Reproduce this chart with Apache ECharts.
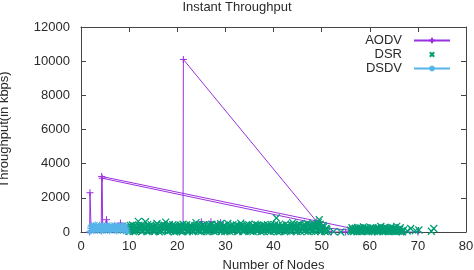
<!DOCTYPE html>
<html>
<head>
<meta charset="utf-8">
<title>Instant Throughput</title>
<script src="https://cdn.jsdelivr.net/npm/echarts@6/dist/echarts.min.js"></script>
<style>
  html, body { margin: 0; padding: 0; background: #fff; }
  #main { width: 474px; height: 270px; }
</style>
</head>
<body>
<div id="main"></div>
<script>
// axis ticks
var xTicks = { min: 0, max: 80, step: 10 };
var yTicks = { min: 0, max: 12000, step: 2000 };

// AODV (node, kbps) in trace order, spikes + tail near zero
var aodv = [
  [1.8, 0], [1.87, 2300], [2.1, 200], [2.6, 300], [3.0, 120], [3.6, 280], [4.2, 80],
  [4.3, 3250], [56.5, 200], [57.5, 60], [50.5, 250], [49.3, 480], [4.4, 3150], [4.5, 150],
  [5.3, 720], [5.8, 250], [7.0, 380], [8.2, 520], [9.0, 300], [12.0, 250], [15.0, 300],
  [18.0, 200], [21.2, 100], [21.27, 10100], [49.0, 600], [48.0, 250], [44.0, 300],
  [40.0, 200], [35.0, 280], [30.0, 200], [29.0, 550], [28.0, 250], [27.0, 600],
  [26.0, 200], [25.0, 600], [24.0, 150], [33.0, 250], [40.0, 450], [46.0, 250],
  [50.0, 150], [52.0, 0], [55.0, 0], [58.0, 20], [61.0, 0], [64.0, 30], [67.0, 0], [70.0, 0]
];

// DSR scatter, dense band 9.5..51 and 56..67 (two passes)
var dsrA = [
  [9.5,120],[9.8,340],[10.1,60],[10.4,260],[10.7,410],[11.0,180],[11.3,30],[11.6,300],
  [11.9,620],[12.2,140],[12.5,380],[12.8,90],[13.1,250],[13.4,600],[13.7,20],[14.0,330],
  [14.3,170],[14.6,430],[14.9,70],[15.2,280],[15.5,200],[15.8,500],[16.1,110],[16.4,350],
  [16.7,40],[17.0,260],[17.3,400],[17.6,580],[17.9,150],[18.2,310],[18.5,80],[18.8,230],
  [19.1,420],[19.4,10],[19.7,290],[20.0,160],[20.3,370],[20.6,60],[20.9,240],[21.2,450],
  [21.5,130],[21.8,320],[22.1,30],[22.4,270],[22.7,400],[23.0,190],[23.3,90],[23.6,350],
  [23.9,550],[24.2,210],[24.5,40],[24.8,310],[25.1,160],[25.4,420],[25.7,80],[26.0,270],
  [26.3,360],[26.6,20],[26.9,230],[27.2,450],[27.5,140],[27.8,300],[28.1,60],[28.4,390],
  [28.7,200],[29.0,480],[29.3,110],[29.6,330],[29.9,30],[30.2,260],[30.5,500],[30.8,170],
  [31.1,380],[31.4,70],[31.7,290],[32.0,150],[32.3,410],[32.6,20],[32.9,340],[33.2,520],
  [33.5,200],[33.8,90],[34.1,300],[34.4,430],[34.7,130],[35.0,250],[35.3,40],[35.6,370],
  [35.9,180],[36.2,460],[36.5,70],[36.8,280],[37.1,350],[37.4,10],[37.7,220],[38.0,400],
  [38.3,120],[38.6,310],[38.9,50],[39.2,260],[39.5,440],[39.8,160],[40.1,330],[40.6,820],
  [40.4,80],[40.7,280],[41.0,400],[41.3,30],[41.6,240],[41.9,370],[42.2,140],[42.5,460],
  [42.8,60],[43.1,300],[43.4,200],[43.7,420],[44.0,550],[44.3,100],[44.6,340],[44.9,20],
  [45.2,270],[45.5,450],[45.8,180],[46.1,380],[46.4,70],[46.7,300],[47.0,500],[47.3,150],
  [47.6,410],[47.9,40],[48.2,330],[48.5,460],[48.8,220],[49.1,380],[49.5,720],[49.4,100],
  [49.7,450],[50.0,250],[50.3,380],[50.6,60],[50.9,200],[51.2,30],
  [52.5,20],[54.0,0],
  [56.0,100],[56.3,250],[56.6,30],[56.9,180],[57.2,120],[57.5,260],[57.8,50],[58.1,200],
  [58.4,90],[58.7,300],[59.0,150],[59.3,40],[59.6,220],[59.9,110],[60.2,250],[60.5,20],
  [60.8,170],[61.1,90],[61.4,230],[61.7,60],[62.0,190],[62.3,320],[62.6,100],[62.9,240],
  [63.2,30],[63.5,150],[63.8,210],[64.1,70],[64.4,260],[64.7,120],[65.0,40],[65.3,200],
  [65.6,330],[65.9,80],[66.2,150],[66.5,20],[67.0,120],[67.8,60],[68.5,200],[69.5,80],
  [70.2,120],[72.8,40],[73.3,200]
];
var dsrB = [
  [9.65,280],[9.95,50],[10.25,390],[10.55,150],[10.85,20],[11.15,330],[11.45,210],[11.75,100],
  [12.05,400],[12.35,260],[12.65,20],[12.95,350],[13.25,120],[13.55,290],[13.85,430],[14.15,60],
  [14.45,240],[14.75,330],[15.05,150],[15.35,30],[15.65,380],[15.95,220],[16.25,10],[16.55,280],
  [16.85,420],[17.15,110],[17.45,200],[17.75,340],[18.05,30],[18.35,440],[18.65,160],[18.95,70],
  [19.25,290],[19.55,380],[19.85,40],[20.15,230],[20.45,120],[20.75,400],[21.05,10],[21.35,280],
  [21.65,210],[21.95,420],[22.25,140],[22.55,60],[22.85,310],[23.15,20],[23.45,260],[23.75,150],
  [24.05,380],[24.35,90],[24.65,430],[24.95,30],[25.25,250],[25.55,350],[25.85,140],[26.15,20],
  [26.45,200],[26.75,410],[27.05,90],[27.35,320],[27.65,30],[27.95,230],[28.25,440],[28.55,120],
  [28.85,330],[29.15,20],[29.45,250],[29.75,400],[30.05,140],[30.35,60],[30.65,300],[30.95,20],
  [31.25,220],[31.55,430],[31.85,100],[32.15,280],[32.45,180],[32.75,40],[33.05,260],[33.35,380],
  [33.65,20],[33.95,210],[34.25,120],[34.55,300],[34.85,420],[35.15,60],[35.45,200],[35.75,20],
  [36.05,310],[36.35,170],[36.65,410],[36.95,100],[37.25,230],[37.55,380],[37.85,40],[38.15,280],
  [38.45,200],[38.75,430],[39.05,130],[39.35,20],[39.65,300],[39.95,60],[40.25,420],[40.55,190],
  [40.85,20],[41.15,250],[41.45,330],[41.75,80],[42.05,300],[42.35,20],[42.65,230],[42.95,400],
  [43.25,100],[43.55,30],[43.85,270],[44.15,380],[44.45,200],[44.75,60],[45.05,410],[45.35,120],
  [45.65,20],[45.95,300],[46.25,240],[46.55,430],[46.85,150],[47.15,30],[47.45,280],[47.75,200],
  [48.05,440],[48.35,100],[48.65,20],[48.95,280],[49.25,540],[49.55,200],[49.85,30],[50.15,120],
  [50.45,300],[50.75,20],[51.05,150],
  [56.15,20],[56.45,150],[56.75,60],[57.05,220],[57.35,20],[57.65,140],[57.95,240],[58.25,20],
  [58.55,160],[58.85,60],[59.15,240],[59.45,100],[59.75,20],[60.05,160],[60.35,90],[60.65,230],
  [60.95,30],[61.25,140],[61.55,20],[61.85,240],[62.15,80],[62.45,180],[62.75,20],[63.05,150],
  [63.35,260],[63.65,60],[63.95,20],[64.25,180],[64.55,40],[64.85,240],[65.15,100],[65.45,20],
  [65.75,140],[66.05,40],[66.35,250],[66.8,10]
];

// DSDV zig-zag, nodes 1.8..9.6
var dsdv = [
  [1.8,0],[1.9,300],[2.05,80],[2.2,420],[2.35,150],[2.5,350],[2.65,40],[2.8,280],
  [2.95,450],[3.1,120],[3.25,380],[3.4,60],[3.55,300],[3.7,200],[3.85,430],[4.0,90],
  [4.15,340],[4.3,20],[4.45,260],[4.6,410],[4.75,130],[4.9,370],[5.05,50],[5.2,310],
  [5.35,190],[5.5,440],[5.65,100],[5.8,350],[5.95,30],[6.1,270],[6.25,400],[6.4,140],
  [6.55,360],[6.7,70],[6.85,290],[7.0,420],[7.15,110],[7.3,330],[7.45,20],[7.6,250],
  [7.75,390],[7.9,160],[8.05,350],[8.2,60],[8.35,300],[8.5,410],[8.65,120],[8.8,320],
  [8.95,40],[9.1,260],[9.25,380],[9.4,90],[9.55,200],[9.65,0]
];

var PLUS = 'path://M5,0L5,10M0,5L10,5';
var CROSS = 'path://M0,0L10,10M0,10L10,0';
var STAR = 'path://M5,0L5,10M0,5L10,5M1.5,1.5L8.5,8.5M1.5,8.5L8.5,1.5';
// same cross with empty margin, so the legend sample stays small
var CROSS_SMALL = 'path://M-3,-3L-3,-3M0,0L10,10M0,10L10,0M13,13L13,13';

var font = 'Liberation Sans, Arial, sans-serif';
var txt = '#2a2a2a';
var frame = '#444';

var myChart = echarts.init(document.getElementById('main'));

function axisBase(pos, t, show) {
  return {
    type: 'value',
    position: pos,
    min: t.min,
    max: t.max,
    interval: t.step,
    axisLine: { show: true, onZero: false, lineStyle: { color: frame, width: 1 } },
    axisTick: { show: true, inside: true, length: 5, lineStyle: { color: frame } },
    axisLabel: {
      show: show, color: txt, fontFamily: font, fontSize: 13,
      formatter: function (v) { return String(v); }
    },
    splitLine: { show: false }
  };
}

var x0 = axisBase('bottom', xTicks, true);
x0.axisLabel.margin = 8;
x0.name = 'Number of Nodes';
x0.nameLocation = 'middle';
x0.nameGap = 27;
x0.nameTextStyle = { color: txt, fontFamily: font, fontSize: 13 };

var y0 = axisBase('left', yTicks, true);
y0.axisLabel.margin = 11;
y0.name = 'Throughput(in kbps)';
y0.nameLocation = 'middle';
y0.nameGap = 70;
y0.nameTextStyle = { color: txt, fontFamily: font, fontSize: 13 };

var option = {
  animation: false,
  backgroundColor: '#fff',
  title: {
    text: 'Instant Throughput',
    left: 'center',
    top: -4,
    textStyle: { color: txt, fontFamily: font, fontSize: 13, fontWeight: 'normal' }
  },
  legend: {
    orient: 'vertical',
    right: 18,
    top: 29,
    align: 'right',
    itemWidth: 36,
    itemHeight: 7,
    itemGap: 1,
    textStyle: { color: txt, fontFamily: font, fontSize: 13, padding: [0, 7, 0, 0] },
    data: ['AODV', { name: 'DSR', icon: CROSS_SMALL }, 'DSDV']
  },
  grid: { left: 81, right: 8, top: 27, bottom: 38, outerBoundsMode: 'none' },
  xAxis: [x0, axisBase('top', xTicks, false)],
  yAxis: [y0, axisBase('right', yTicks, false)],
  series: [
    {
      name: 'AODV',
      type: 'line',
      z: 2,
      data: aodv,
      symbol: PLUS,
      symbolSize: 7,
      showAllSymbol: true,
      lineStyle: { color: '#9b30e0', width: 1 },
      itemStyle: { color: '#9b30e0', borderColor: '#9b30e0', borderWidth: 1 }
    },
    {
      name: 'DSR',
      type: 'scatter',
      z: 3,
      data: dsrA.concat(dsrB),
      symbol: CROSS,
      symbolSize: 7,
      itemStyle: { color: '#009E73', borderColor: '#009E73', borderWidth: 1.3, opacity: 1 }
    },
    {
      name: 'DSDV',
      type: 'line',
      z: 4,
      data: dsdv,
      symbol: STAR,
      symbolSize: 6,
      showAllSymbol: true,
      lineStyle: { color: '#56B4E9', width: 1.5 },
      itemStyle: { color: '#56B4E9', borderColor: '#56B4E9', borderWidth: 1 }
    }
  ]
};

myChart.setOption(option);
</script>
</body>
</html>
